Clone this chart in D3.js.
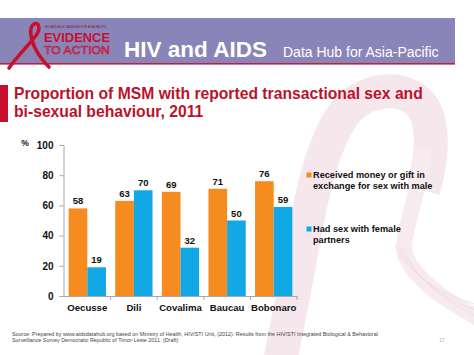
<!DOCTYPE html>
<html>
<head>
<meta charset="utf-8">
<script src="https://cdn.jsdelivr.net/npm/d3@7"></script>
<style>
  html, body { margin: 0; padding: 0; background: #fff; }
  svg { display: block; font-family: "Liberation Sans", Arial, Helvetica, sans-serif; }
</style>
</head>
<body>
<svg id="chart" width="474" height="355"></svg>
<script>
const categories = ["Oecusse", "Dili", "Covalima", "Baucau", "Bobonaro"];
const receivedMoney = [58, 63, 69, 71, 76];
const femalePartners = [19, 70, 32, 50, 59];
const seriesNames = ["Received money or gift in exchange for sex with male", "Had sex with female partners"];
const legendLines = [["Received money or gift in", "exchange for sex with male"], ["Had sex with female", "partners"]];
const yTicks = [0, 20, 40, 60, 80, 100];
const colors = ["#f68b1f", "#12a8e6"];

const svg = d3.select("#chart");

// watermark ribbon
const wm = svg.append("g").attr("fill", "none").attr("stroke-linecap", "butt");
wm.append("path")
  .attr("d", "M 280 362 L 298 270 C 310 200, 322 140, 347 110 C 367 88, 405 84, 422 106 C 435 125, 432 160, 423 190")
  .attr("stroke", "#f5e7ec").attr("stroke-width", 34);
wm.append("path")
  .attr("d", "M 423 150 C 419 200, 400 235, 405 255 C 415 280, 445 300, 478 318")
  .attr("stroke", "#f7ebef").attr("stroke-width", 16);
[0, 4, 8].forEach(o => {
  wm.append("path")
    .attr("d", `M ${395 + o} ${245 + o * 0.3} C ${410 + o} ${275 + o}, ${440 + o} ${295 + o}, ${478} ${305 + o * 1.5}`)
    .attr("stroke", "#eed8e0").attr("stroke-width", 0.8);
});

// header band
svg.append("rect").attr("x", 0).attr("y", 18).attr("width", 455).attr("height", 46).attr("fill", "#8a85b9");
svg.append("rect").attr("x", 0).attr("y", 63).attr("width", 455).attr("height", 1.6).attr("fill", "#b8213f");

// logo ribbon
svg.append("path")
  .attr("d", "M 9 68 C 18 55, 30 44, 37 34 C 41 27, 38 22, 34 24 C 29 27, 30 38, 35 48 C 39 56, 44 62, 49 67")
  .attr("fill", "none").attr("stroke", "#c8102e").attr("stroke-width", 3.6).attr("stroke-linecap", "round");
svg.append("text").attr("x", 45).attr("y", 28).attr("font-size", 3).attr("fill", "#7a1a30")
  .attr("textLength", 62).attr("lengthAdjust", "spacingAndGlyphs")
  .text("HIV AND AIDS DATA HUB FOR ASIA-PACIFIC");
svg.append("text").attr("x", 44).attr("y", 41.5).attr("font-size", 12).attr("font-weight", "bold").attr("fill", "#c8102e")
  .attr("textLength", 66).attr("lengthAdjust", "spacingAndGlyphs").text("EVIDENCE");
svg.append("text").attr("x", 44).attr("y", 54).attr("font-size", 10.5).attr("fill", "none")
  .attr("stroke", "#c8102e").attr("stroke-width", 0.6)
  .attr("textLength", 66).attr("lengthAdjust", "spacingAndGlyphs").text("TO ACTION");

svg.append("text").attr("x", 124).attr("y", 57).attr("font-size", 22.5).attr("font-weight", "bold").attr("fill", "#fff")
  .text("HIV and AIDS");
svg.append("text").attr("x", 283).attr("y", 57).attr("font-size", 14).attr("fill", "#fff")
  .text("Data Hub for Asia-Pacific");

// title
svg.append("rect").attr("x", 0).attr("y", 85).attr("width", 8).attr("height", 37).attr("fill", "#c8102e");
const title = svg.append("text").attr("font-size", 15.7).attr("font-weight", "bold").attr("fill", "#b9132d");
title.append("tspan").attr("x", 14).attr("y", 99).text("Proportion of MSM with reported transactional sex and");
title.append("tspan").attr("x", 14).attr("y", 117).text("bi-sexual behaviour, 2011");

// chart
const y = d3.scaleLinear().domain([0, 100]).range([296, 145]);
const x0 = d3.scaleBand().domain(categories).range([64, 297]).paddingInner(0.2).paddingOuter(0.1);
const x1 = d3.scaleBand().domain([0, 1]).range([0, x0.bandwidth()]);

const yAxis = svg.append("g").attr("transform", "translate(63.5,0)")
  .call(d3.axisLeft(y).tickValues(yTicks).tickSize(4).tickPadding(6));
yAxis.select(".domain").attr("stroke", "#a8a8a8");
yAxis.selectAll(".tick line").attr("stroke", "#a8a8a8");
yAxis.selectAll(".tick text").attr("font-size", 10).attr("font-weight", "bold").attr("fill", "#111")
  .attr("font-family", "Liberation Sans, Arial, sans-serif");

svg.append("text").attr("x", 25).attr("y", 146).attr("font-size", 8.5).attr("font-weight", "bold").attr("fill", "#111")
  .attr("text-anchor", "middle").text("%");

const series = [receivedMoney, femalePartners];
const groups = svg.append("g").selectAll("g").data(categories).join("g")
  .attr("transform", d => `translate(${x0(d)},0)`);

groups.selectAll("rect").data((d, i) => series.map((s, k) => ({ k, v: s[i] }))).join("rect")
  .attr("x", d => x1(d.k)).attr("width", x1.bandwidth())
  .attr("y", d => y(d.v)).attr("height", d => y(0) - y(d.v))
  .attr("fill", d => colors[d.k]);

groups.selectAll("text.val").data((d, i) => series.map((s, k) => ({ k, v: s[i] }))).join("text")
  .attr("class", "val")
  .attr("x", d => x1(d.k) + x1.bandwidth() / 2).attr("y", d => y(d.v) - 4)
  .attr("text-anchor", "middle").attr("font-size", 9.5).attr("font-weight", "bold").attr("fill", "#111")
  .text(d => d.v);

// x axis
const xa = svg.append("g");
xa.append("line").attr("x1", 63.5).attr("x2", 297).attr("y1", y(0) + 0.5).attr("y2", y(0) + 0.5).attr("stroke", "#a8a8a8");
const bounds = categories.map(c => x0(c) - x0.step() * x0.paddingInner() / 2).slice(1).concat([297]);
xa.selectAll("line.tk").data(bounds).join("line").attr("class", "tk")
  .attr("x1", d => d).attr("x2", d => d).attr("y1", y(0)).attr("y2", y(0) + 4).attr("stroke", "#a8a8a8");
xa.selectAll("text").data(categories).join("text")
  .attr("x", d => x0(d) + x0.bandwidth() / 2).attr("y", 310.5)
  .attr("text-anchor", "middle").attr("font-size", 9.6).attr("font-weight", "bold").attr("fill", "#111")
  .text(d => d);

// legend
const legY = [178, 232];
const leg = svg.append("g").selectAll("g").data(seriesNames).join("g");
leg.append("rect").attr("x", 306.5).attr("y", (d, i) => legY[i] - 5.5).attr("width", 5).attr("height", 5)
  .attr("fill", (d, i) => colors[i]);
leg.append("text").attr("font-size", 9.2).attr("font-weight", "bold").attr("fill", "#111")
  .each(function (d, i) {
    d3.select(this).selectAll("tspan").data(legendLines[i]).join("tspan")
      .attr("x", 313).attr("y", (t, j) => legY[i] + j * 10.5).text(t => t);
  });

// footer
const foot = svg.append("text").attr("font-size", 5.4).attr("fill", "#444");
foot.append("tspan").attr("x", 12).attr("y", 335.5)
  .text("Source: Prepared by www.aidsdatahub.org based on Ministry of Health, HIV/STI Unit, (2012). Results from the HIV/STI Integrated Biological & Behavioral");
foot.append("tspan").attr("x", 12).attr("y", 341.5)
  .text("Surveillance Survey Democratic Republic of Timor-Leste 2011. (Draft)");
svg.append("text").attr("x", 442).attr("y", 341.5).attr("font-size", 5).attr("fill", "#aaa").attr("text-anchor", "middle").text("17");
</script>
</body>
</html>
